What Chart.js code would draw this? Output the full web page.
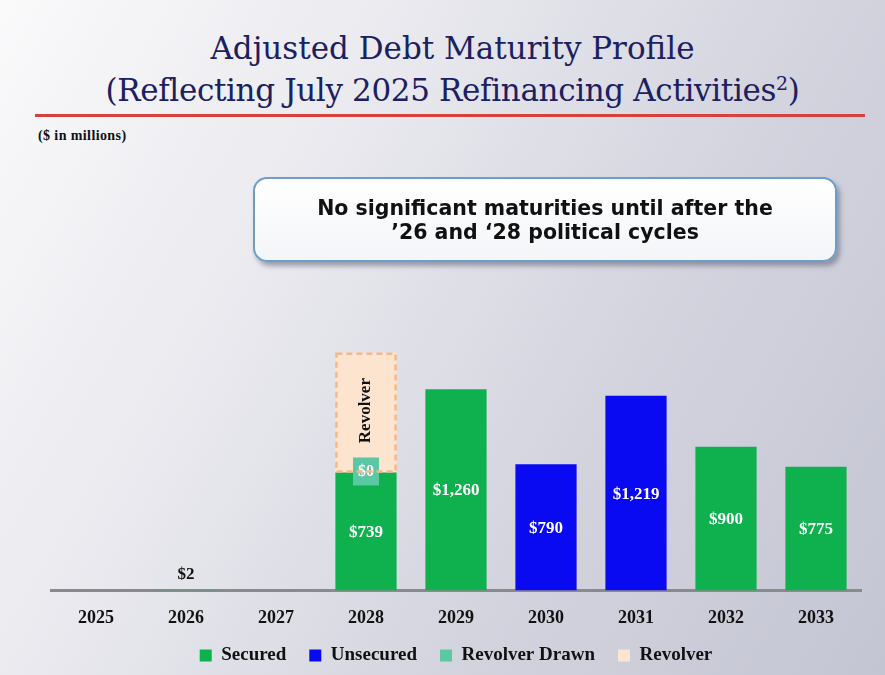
<!DOCTYPE html>
<html>
<head>
<meta charset="utf-8">
<script src="https://cdn.jsdelivr.net/npm/chart.js@4/dist/chart.umd.min.js"></script>
<style>
  html, body { margin: 0; padding: 0; }
  body {
    width: 885px; height: 675px; position: relative; overflow: hidden;
    background: linear-gradient(120deg, #fafafb 0%, #e8e8ee 35%, #d3d4de 65%, #c4c5d3 100%);
  }
  #title {
    position: absolute; left: 10px; top: 27px; width: 885px; text-align: center;
    font-family: "DejaVu Serif", serif; font-size: 31px; line-height: 42px; color: #1b2160;
  }
  #title .l2 { letter-spacing: -0.35px; }
  #title sup { font-size: 19px; vertical-align: 11px; line-height: 0; }
  #rule {
    position: absolute; left: 35px; top: 114px; width: 830px; height: 3px; background: #d8403b;
  }
  #units {
    position: absolute; left: 38px; top: 128px;
    font-family: "Liberation Serif", serif; font-weight: bold; font-size: 14px; letter-spacing: 0.4px; color: #111;
  }
  #callout {
    position: absolute; left: 253px; top: 177px; width: 580px; height: 81px;
    border: 2px solid #6d9ec9; border-radius: 14px;
    background: linear-gradient(180deg, #ffffff 0%, #f3f5f8 100%);
    box-shadow: 3px 4px 5px rgba(90, 95, 115, 0.55);
    display: flex; align-items: center; justify-content: center; text-align: center;
    font-family: "DejaVu Sans", sans-serif; font-weight: bold; font-size: 20.5px; line-height: 24px; color: #111;
  }
  #chart { position: absolute; left: 0; top: 0; }
</style>
</head>
<body>
<div id="title">Adjusted Debt Maturity Profile<br><span class="l2">(Reflecting July 2025 Refinancing Activities<sup>2</sup>)</span></div>
<div id="rule"></div>
<div id="units">($ in millions)</div>
<canvas id="chart" width="885" height="675"></canvas>
<div id="callout"><div>No significant maturities until after the<br>’26 and ‘28 political cycles</div></div>
<script>
const years = ["2025", "2026", "2027", "2028", "2029", "2030", "2031", "2032", "2033"];
const secured = [null, 2, null, 739, 1260, null, null, 900, 775];
const unsecured = [null, null, null, null, null, 790, 1219, null, null];
const revolverDrawn = [null, null, null, 0, null, null, null, null, null];
const revolver = [null, null, null, 750, null, null, null, null, null];

const GREEN = '#0fb04e', BLUE = '#0a0af2', TEAL = '#5cc7a3', PEACH = '#fde4cf', PEACH_BORDER = '#f2b98c';

const fmt = v => '$' + v.toLocaleString('en-US');

const labelPlugin = {
  id: 'barLabels',
  afterDatasetsDraw(chart) {
    const ctx = chart.ctx;
    ctx.save();
    chart.data.datasets.forEach((ds, di) => {
      const meta = chart.getDatasetMeta(di);
      meta.data.forEach((el, i) => {
        const v = ds.data[i];
        if (v === null || v === undefined) return;
        const p = el.getProps(['x', 'y', 'base', 'width'], true);
        ctx.textAlign = 'center';
        ctx.textBaseline = 'middle';
        if (ds.kind === 'revolver') {
          ctx.save();
          ctx.setLineDash([6, 4]);
          ctx.lineWidth = 2.5;
          ctx.strokeStyle = PEACH_BORDER;
          ctx.strokeRect(p.x - p.width / 2 + 1, p.y + 1, p.width - 2, p.base - p.y - 2);
          ctx.restore();
          ctx.save();
          ctx.translate(p.x, (p.y + p.base) / 2 - 2);
          ctx.rotate(-Math.PI / 2);
          ctx.font = 'bold 17px "Liberation Serif", serif';
          ctx.fillStyle = '#111';
          ctx.fillText(ds.label, 0, 0);
          ctx.restore();
        } else if (ds.kind === 'drawn') {
          ctx.fillStyle = TEAL;
          ctx.fillRect(p.x - 13, p.y - 15, 26, 28);
          ctx.font = 'bold 16px "Liberation Serif", serif';
          ctx.fillStyle = '#ffffff';
          ctx.fillText(fmt(v), p.x, p.y - 1);
        } else if (v >= 100) {
          ctx.font = 'bold 17px "Liberation Serif", serif';
          ctx.fillStyle = '#ffffff';
          ctx.fillText(fmt(v), p.x, (p.y + p.base) / 2 + 1);
        } else {
          ctx.font = 'bold 17px "Liberation Serif", serif';
          ctx.fillStyle = '#111';
          ctx.fillText(fmt(v), p.x, p.y - 16);
        }
      });
    });
    ctx.restore();
  }
};

new Chart(document.getElementById('chart'), {
  type: 'bar',
  data: {
    labels: years,
    datasets: [
      { label: 'Secured', data: secured, backgroundColor: GREEN, kind: 'secured' },
      { label: 'Unsecured', data: unsecured, backgroundColor: BLUE, kind: 'unsecured' },
      { label: 'Revolver Drawn', data: revolverDrawn, backgroundColor: TEAL, kind: 'drawn' },
      { label: 'Revolver', data: revolver, backgroundColor: PEACH, kind: 'revolver' }
    ]
  },
  options: {
    responsive: false,
    animation: false,
    layout: { padding: { left: 51, right: 24, top: 335, bottom: 0 } },
    datasets: { bar: { barPercentage: 0.68, categoryPercentage: 1, borderWidth: 0 } },
    scales: {
      x: {
        stacked: true,
        grid: { display: false, drawTicks: false },
        border: { display: true, color: '#8a8a8e', width: 3 },
        ticks: { color: '#111', padding: 17, font: { family: '"Liberation Serif", serif', weight: 'bold', size: 18 } },
        afterFit(scale) { scale.height = 32.5; }
      },
      y: {
        stacked: true, display: false, min: 0, max: 1600
      }
    },
    plugins: {
      title: { display: false },
      tooltip: { enabled: false },
      legend: {
        position: 'bottom',
        labels: {
          boxWidth: 12, boxHeight: 12, padding: 23, color: '#111',
          font: { family: '"Liberation Serif", serif', weight: 'bold', size: 19 },
          generateLabels(chart) {
            return chart.data.datasets.map((ds, i) => ({
              text: ds.label, fillStyle: ds.backgroundColor, strokeStyle: ds.backgroundColor,
              lineWidth: 0, hidden: false, datasetIndex: i, fontColor: '#111'
            }));
          }
        }
      }
    }
  },
  plugins: [labelPlugin]
});
</script>
</body>
</html>
